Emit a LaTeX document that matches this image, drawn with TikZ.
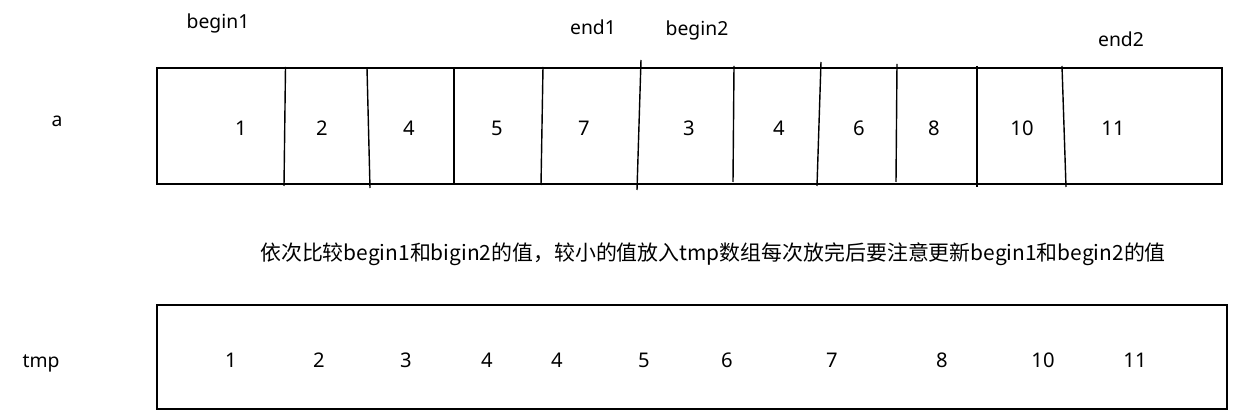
\documentclass[tikz,border=0pt]{standalone}
\usepackage{fontspec}
\setmainfont{Noto Sans}
\newfontfamily\cjk{Noto Sans CJK SC}
\begin{document}
\begin{tikzpicture}
[
    x=0.02cm, y=-0.02cm,
    edge/.style={draw, line width=0.8pt},
    tag/.style={inner sep=0pt, font=\fontsize{11}{13}\selectfont},
    num/.style={inner sep=0pt, font=\fontsize{11.5}{13}\selectfont},
    note/.style={inner sep=0pt, font=\cjk\fontsize{11.9}{14}\selectfont},
]
\useasboundingbox (0,0) rectangle (1258,418);
% array a
\node[tag] (nameA) at (57,121) {a};
\draw[edge] (157,68) rectangle (1222,184);
\foreach \xt/\yt/\xb/\yb in {285.5/67/284/186, 367/68/370/188, 454/68/454/185,
    543/67/541/185, 641/60/637/190, 734/66/733/182, 821/62/817/186,
    897/64/896/182, 977/66/977/187, 1062/66/1066/187}
    \draw[edge] (\xt,\yt) -- (\xb,\yb);
\foreach \v/\x [count=\i] in {1/241, 2/322, 4/409, 5/497, 7/584, 3/689, 4/779,
    6/859, 8/934, 10/1022, 11/1113}
    \node[num] (a\i) at (\x,128) {\v};
% pointers
\node[tag] (begin1) at (218,23) {begin1};
\node[tag] (end1) at (593,27) {end1};
\node[tag] (begin2) at (697,30) {begin2};
\node[tag] (end2) at (1121,39) {end2};
% explanation
\node[note] (hint) at (713,254) {依次比较begin1和bigin2的值，较小的值放入tmp数组每次放完后要注意更新begin1和begin2的值};
% array tmp
\node[tag] (nameTmp) at (41,363) {tmp};
\draw[edge] (157,305) rectangle (1227,409);
\foreach \v/\x [count=\i] in {1/231, 2/319, 3/406, 4/487, 4/557, 5/644,
    6/727, 7/832, 8/942, 10/1043, 11/1135}
    \node[num] (t\i) at (\x,360) {\v};
\end{tikzpicture}
\end{document}
